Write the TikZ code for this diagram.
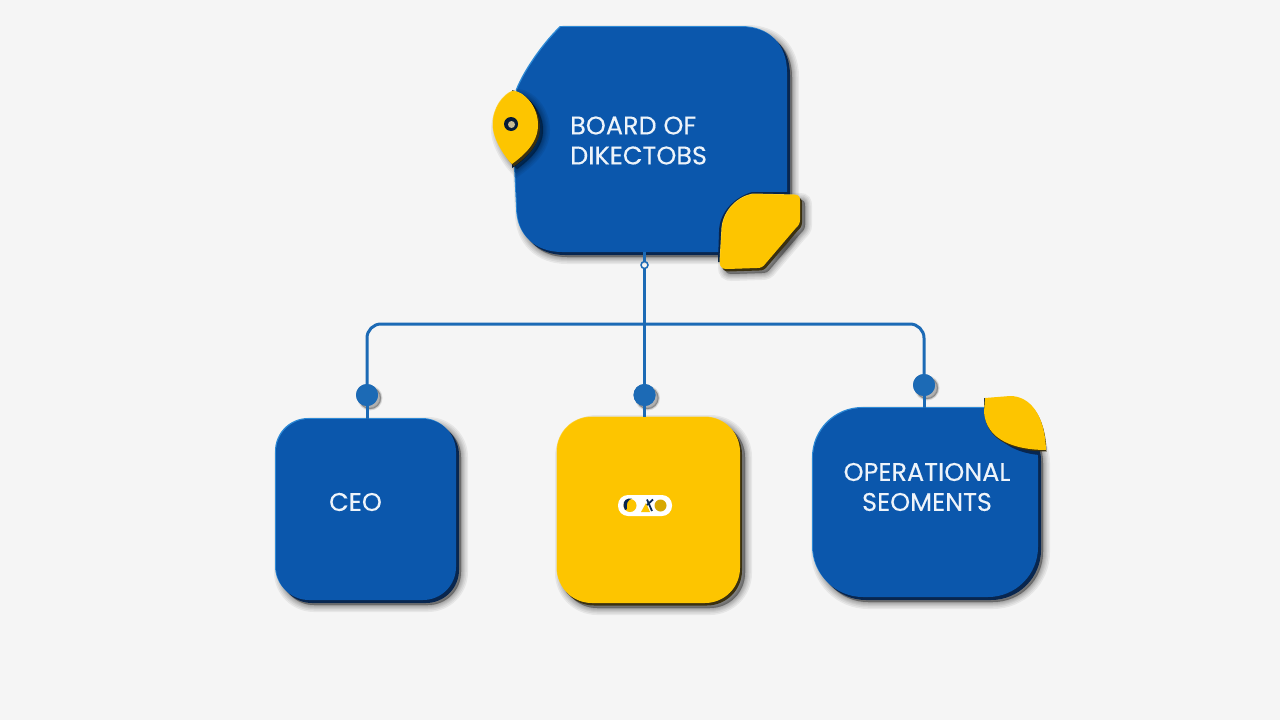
\documentclass[tikz,border=0pt]{standalone}
\usepackage{fontspec}
\setmainfont{Poppins}
\definecolor{bgc}{HTML}{F5F5F5}
\definecolor{bluef}{HTML}{0B57AC}
\definecolor{bluel}{HTML}{2E8AD6}
\definecolor{blued}{HTML}{08264F}
\definecolor{yell}{HTML}{FDC500}
\definecolor{yelld}{HTML}{3A3010}
\definecolor{wire}{HTML}{1C6AB5}
\definecolor{txt}{HTML}{EEF4FA}
\tikzset{
  shadowlayer/.style={preaction={draw=black,fill=black,draw opacity=.06,fill opacity=.06,line width=#1,
      transform canvas={xshift=5pt,yshift=-5pt}}},
  softshadow/.style={shadowlayer=14pt,shadowlayer=11pt,shadowlayer=8pt,shadowlayer=6pt,shadowlayer=4pt,shadowlayer=2pt,shadowlayer=0.5pt},
  bluecard/.style={softshadow,
    preaction={fill=blued,transform canvas={xshift=3pt,yshift=-3pt}},
    preaction={fill=bluel,transform canvas={xshift=-1pt,yshift=1pt}},
    fill=bluef},
  yellowcard/.style={softshadow,
    preaction={fill=yelld,transform canvas={xshift=2pt,yshift=-2.5pt}},
    preaction={fill=yell!80!white,transform canvas={xshift=-.5pt,yshift=.5pt}},
    fill=yell},
  boxnode/.style={rectangle,inner sep=0pt,outer sep=0pt},
  label text/.style={text=txt,font=\fontsize{25.5}{30}\selectfont\addfontfeature{FakeBold=0.2},align=center,inner sep=0pt},
  wireline/.style={draw=wire,line width=3pt},
  dotshade/.style={preaction={fill=black,fill opacity=.1,transform canvas={xshift=3pt,yshift=-3pt},draw=black,draw opacity=.1,line width=#1}},
  dotnode/.style={circle,fill=wire,minimum size=22pt,inner sep=0pt,outer sep=0pt,
    dotshade=3pt,dotshade=1.5pt,dotshade=.3pt},
}
\begin{document}
\begin{tikzpicture}[x=1pt,y=-1pt]
\useasboundingbox (0,0) rectangle (1280,720);
\fill[bgc] (0,0) rectangle (1280,720);

% board body
\path[bluecard] (561,27) -- (742,27) .. controls (770,27) and (787,45) .. (787,72)
  -- (787,225) .. controls (787,240) and (770,252) .. (750,252)
  -- (562,252) .. controls (535,252) and (517,235) .. (517,208)
  -- (515,168) -- (517,90) .. controls (525,70) and (545,42) .. (561,27) -- cycle;
\coordinate (boardb) at (644.5,252);

% left tag
\fill[blued] (512,168) .. controls (525,160) and (541,145) .. (540,125)
  .. controls (539,105) and (525,93) .. (512,90) -- cycle;
\path[yellowcard] (513,91) .. controls (525,92) and (538,107) .. (538,125)
  .. controls (538,143) and (524,155) .. (512,164)
  .. controls (506,158) and (493,140) .. (493,125)
  .. controls (493,108) and (503,95) .. (513,91) -- cycle;
\fill[blued!70!black] (511,124) circle (7);
\fill[black!50!yell!40!bgc] (511.5,124.5) circle (3.5);

% bottom right leaf
\fill[blued] (752,192) .. controls (735,197) and (719,212) .. (719,232) -- (718,262) -- (750,262) -- (790,192) -- cycle;
\path[yellowcard] (753,194) -- (795,195) .. controls (799,195) and (800,197) .. (800,201)
  -- (800,220) .. controls (800,224) and (798,226) .. (795,229)
  -- (766,263) .. controls (763,267) and (761,268) .. (757,268)
  -- (727,269) .. controls (722,269) and (720,267) .. (720,262)
  -- (722,228) .. controls (724,210) and (738,197) .. (753,194) -- cycle;

% text of board
\node[label text,align=left,anchor=west] (boardtext) at (570,140.5) {BOARD OF\\DIKECTOBS};

% nodes
\node[boxnode,bluecard,rounded corners=33pt,minimum width=180pt,minimum height=181pt] (ceo) at (366,509.5) {};
\node[label text] (ceotext) at (355.5,502) {CEO};
\node[boxnode,yellowcard,rounded corners=35pt,minimum width=183pt,minimum height=186pt] (mid) at (648.5,510) {};
\node[boxnode,bluecard,rounded corners=50pt,minimum width=225pt,minimum height=189pt] (ops) at (925.5,502.5) {};
\node[label text] (opstext) at (927,487) {OPERATIONAL\\SEOMENTS};

% ops leaf
\fill[blued] (984,398) .. controls (983,425) and (1000,452) .. (1040,455) -- (1036,440) -- (990,398) -- cycle;
\path[preaction={fill=yelld,transform canvas={xshift=.5pt,yshift=-1.5pt}},fill=yell] (985,398) -- (1010,396) .. controls (1030,396) and (1045,415) .. (1046,450)
  .. controls (1015,450) and (986,440) .. (984,412) -- cycle;

% mid icon
\node[boxnode,fill=white,rounded corners=10pt,minimum width=54pt,minimum height=21pt] (pill) at (645,505.5) {};
\fill[yell] (630,505.5) circle (6.5);
\fill[blued] (623.5,506) .. controls (623,500) and (627,498) .. (632,498.5) .. controls (628,500) and (626,503) .. (627,509) -- (625,510) -- cycle;
\fill[yell] (641,512) -- (650,512) -- (646,503) -- cycle;
\draw[blued,line width=1.8pt] (647,499.5) -- (652,511);
\draw[blued,line width=1.8pt] (653,499.5) -- (647,505);
\fill[yell!85!black] (660.5,505.5) circle (6);

% connection dots
\node[dotnode] (dot1) at (367,395) {};
\node[dotnode] (dot2) at (644.5,395) {};
\node[dotnode] (dot3) at (924,385) {};
\coordinate (bus) at (644.5,324);
\node[circle,draw=wire,line width=1.5pt,minimum size=7pt,inner sep=0pt] (joint) at (644.5,265) {};

% connectors
\draw[wireline,rounded corners=14pt] (dot1) |- (bus) -| (dot3);
\draw[wireline] (boardb) -- (joint) -- (dot2);
\draw[wireline] (dot1) -- (dot1 |- ceo.north);
\draw[wireline] (dot2) -- (dot2 |- mid.north);
\draw[wireline] (dot3) -- (dot3 |- ops.north);
\fill[wire] (dot1) circle (11);
\fill[wire] (dot2) circle (11);
\fill[wire] (dot3) circle (11);
\end{tikzpicture}
\end{document}
